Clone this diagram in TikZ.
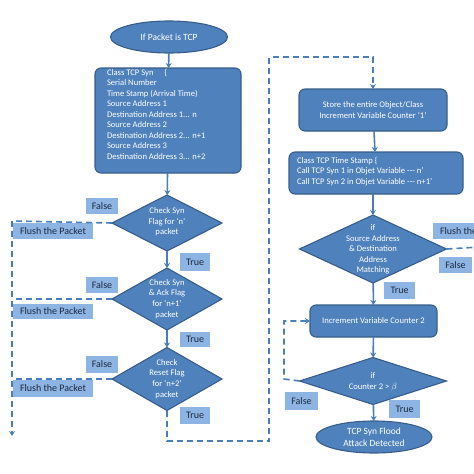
\documentclass[tikz,border=0pt]{standalone}
\usepackage{fontspec}
\setmainfont{Carlito}
\usetikzlibrary{shapes.geometric,arrows.meta,calc}
\definecolor{boxfill}{HTML}{4F81BD}
\definecolor{boxline}{HTML}{385D8A}
\definecolor{lblfill}{HTML}{8EB4E3}
\definecolor{lbltext}{HTML}{1B2A40}
\definecolor{conn}{HTML}{4A7EBB}
\begin{document}
\begin{tikzpicture}[x=1pt,y=-1pt,
  every node/.style={inner sep=0pt,outer sep=0pt},
  proc/.style={draw=boxline,line width=1.1pt,fill=boxfill,rounded corners=6pt,text=white,font=\fontsize{8.6}{10.5}\selectfont},
  dec/.style={diamond,draw=boxline,line width=1.1pt,fill=boxfill,text=white,font=\fontsize{8.6}{10.6}\selectfont,align=center,aspect=1.9},
  term/.style={ellipse,draw=boxline,line width=1.1pt,fill=boxfill,text=white,font=\fontsize{9.5}{12}\selectfont,align=center},
  lbl/.style={fill=lblfill,text=lbltext,font=\fontsize{10}{12}\selectfont,anchor=center},
  arr/.style={draw=conn,line width=1.6pt,-{Stealth[length=5pt,width=6pt]}},
  dsh/.style={draw=conn,line width=1.6pt,dash pattern=on 6pt off 4pt},
  dsharr/.style={dsh,-{Stealth[length=5pt,width=6pt]}}
]
\useasboundingbox (0,0) rectangle (474,474);
\clip (0,0) rectangle (474,474);

% left column
\node[term,minimum width=117pt,minimum height=32pt] (start) at (169,37) {If Packet is TCP};
\node[proc,minimum width=146pt,minimum height=105pt] (syn) at (168,120.5) {};
\node[text=white,font=\fontsize{8.6}{10.5}\selectfont,align=left,anchor=north west] (syntext) at (107,69) {Class TCP Syn \hspace{9pt}\{\\Serial Number\\Time Stamp (Arrival Time)\\Source Address 1\\Destination Address 1... n\\Source Address 2\\Destination Address 2... n+1\\Source Address 3\\Destination Address 3... n+2};

\node[dec,minimum width=110pt,minimum height=56pt] (d1) at (167,223) {};
\node[text=white,font=\fontsize{8.6}{10.6}\selectfont,align=center] (d1t) at (167,222) {Check Syn\\Flag for `n'\\packet};
\node[dec,minimum width=110pt,minimum height=62pt] (d2) at (167,299) {};
\node[text=white,font=\fontsize{8.6}{10.6}\selectfont,align=center] (d2t) at (167,299) {Check Syn\\\& Ack Flag\\for `n+1'\\packet};
\node[dec,minimum width=110pt,minimum height=63pt] (d3) at (167,379) {};
\node[text=white,font=\fontsize{8.6}{10.6}\selectfont,align=center] (d3t) at (167,379) {Check\\Reset Flag\\for `n+2'\\packet};

\node[lbl,minimum width=32pt,minimum height=16pt] (f1) at (102,206) {False};
\node[lbl,minimum width=80pt,minimum height=16pt] (fl1) at (53,231) {Flush the Packet};
\node[lbl,minimum width=30pt,minimum height=18pt] (t1) at (195,262) {True};
\node[lbl,minimum width=32pt,minimum height=16pt] (f2) at (102,285) {False};
\node[lbl,minimum width=80pt,minimum height=15pt] (fl2) at (53,311) {Flush the Packet};
\node[lbl,minimum width=30pt,minimum height=15pt] (t2) at (195,339) {True};
\node[lbl,minimum width=32pt,minimum height=17pt] (f3) at (102,364) {False};
\node[lbl,minimum width=80pt,minimum height=17pt] (fl3) at (53,388) {Flush the Packet};
\node[lbl,minimum width=30pt,minimum height=17pt] (t3) at (195,415) {True};

\coordinate (lefttop) at (12,221);
\coordinate (leftend) at (12,436);
\coordinate (b1) at (167,441);
\coordinate (b2) at (269,441);
\coordinate (b3) at (269,57);
\coordinate (b4) at (373,57);

% right column
\node[proc,minimum width=148pt,minimum height=42pt,align=center] (store) at (373,110) {Store the entire Object/Class\\Increment Variable Counter `1'};
\node[proc,minimum width=174pt,minimum height=42pt] (ts) at (376,173) {};
\node[text=white,font=\fontsize{8.6}{10.5}\selectfont,align=left,anchor=north west] (tstext) at (297,157) {Class TCP Time Stamp \{\\Call TCP Syn 1 in Objet Variable -{}-{}- n'\\Call TCP Syn 2 in Objet Variable -{}-{}- n+1'};
\node[dec,minimum width=147pt,minimum height=68pt] (d4) at (373,249) {};
\node[text=white,font=\fontsize{8.6}{10.6}\selectfont,align=center] (d4t) at (373,249.5) {if\\Source Address\\\& Destination\\Address\\Matching};
\node[proc,minimum width=127pt,minimum height=32pt] (inc) at (373.5,321) {Increment Variable Counter 2};
\node[dec,minimum width=147pt,minimum height=47pt] (d5) at (373,381) {};
\node[text=white,font=\fontsize{8.6}{10.6}\selectfont,align=center] (d5t) at (373,382) {if\\Counter 2 > $\beta$};
\node[term,minimum width=116pt,minimum height=32pt] (end) at (374,437) {TCP Syn Flood\\Attack Detected};

\node[lbl,minimum width=80pt,minimum height=16pt] (fl4) at (473,231) {Flush the Packet};
\node[lbl,minimum width=33pt,minimum height=16pt] (f4) at (455.5,265) {False};
\node[lbl,minimum width=31pt,minimum height=17pt] (t4) at (399.5,290.5) {True};
\node[lbl,minimum width=33pt,minimum height=18pt] (f5) at (301.5,401) {False};
\node[lbl,minimum width=31pt,minimum height=18pt] (t5) at (404.5,409) {True};
\coordinate (rightend) at (480,247);
\coordinate (fb) at (284,379);

% connectors
\draw[arr] (start) -- (syn);
\draw[arr] (syn) -- (d1);
\draw[arr] (d1) -- (d2);
\draw[arr] (d2) -- (d3);
\draw[dsh] (d1.west) -- (lefttop);
\draw[dsh] (d2.west) -- (12,299);
\draw[dsh] (d3.west) -- (12,379);
\draw[dsharr] (lefttop) -- (leftend);
\draw[dsharr] (d3.south) -- (b1) -- (b2) -- (b3) -- (b4) -- (store.north);
\draw[arr] (store) -- (ts);
\draw[arr] (ts.south -| d4.north) -- (d4);
\draw[arr] (d4) -- (inc);
\draw[dsh] (d4.east) -- (rightend);
\draw[arr] (inc) -- (d5);
\draw[dsharr] (d5.west) -- (fb) |- (inc.west);
\draw[arr] (d5) -- (end);
\end{tikzpicture}
\end{document}
